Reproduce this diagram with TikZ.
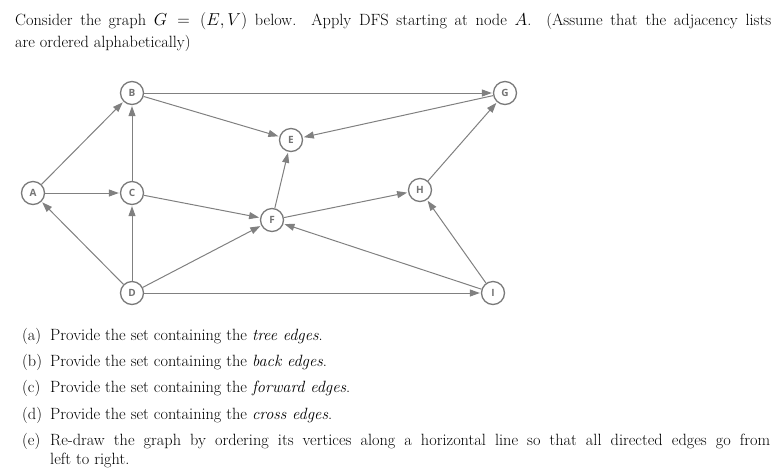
\documentclass[tikz,border=0pt]{standalone}
\usepackage{fontspec}
\newfontfamily\nodefont{Open Sans}
\usetikzlibrary{arrows.meta}
\begin{document}
\begin{tikzpicture}[x=1pt,y=-1pt,
  vert/.style={circle,draw=gray!95!black,line width=1.3pt,minimum size=23pt,inner sep=0pt,text=gray!90!black,font=\nodefont\bfseries\fontsize{10}{10}\selectfont},
  arc/.style={draw=gray,line width=1pt,-{Triangle[length=10pt,width=7pt]},shorten >=1pt},
  txt/.style={anchor=base west,inner sep=0pt,font=\fontsize{16.3}{18}\selectfont}]
\useasboundingbox (0,0) rectangle (776,475);
\node[anchor=north west,inner sep=0pt,text width=756pt,align=justify,font=\fontsize{16.3}{22}\selectfont] (q) at (15,12)
 {Consider the graph $G=(E,V)$ below. Apply DFS starting at node $A$. (Assume that the adjacency lists\linebreak are ordered alphabetically)};
\node[vert] (A) at (33,193) {A};
\node[vert] (B) at (132,93) {B};
\node[vert] (C) at (132,193) {C};
\node[vert] (D) at (132,293) {D};
\node[vert] (E) at (291,140) {E};
\node[vert] (F) at (272,220) {F};
\node[vert] (G) at (505,93) {G};
\node[vert] (H) at (420,190) {H};
\node[vert] (I) at (493,293) {I};
\draw[arc] (A) -- (B);
\draw[arc] (A) -- (C);
\draw[arc] (D) -- (A);
\draw[arc] (C) -- (B);
\draw[arc] (D) -- (C);
\draw[arc] (B) -- (G);
\draw[arc] (B) -- (E);
\draw[arc] (G) -- (E);
\draw[arc] (C) -- (F);
\draw[arc] (D) -- (F);
\draw[arc] (F) -- (E);
\draw[arc] (F) -- (H);
\draw[arc] (H) -- (G);
\draw[arc] (I) -- (H);
\draw[arc] (I) -- (F);
\draw[arc] (D) -- (I);
\node[txt] (la) at (22,340) {(a)};
\node[txt] (ta) at (50,340) {Provide the set containing the \textit{tree edges}.};
\node[txt] (lb) at (22,366) {(b)};
\node[txt] (tb) at (50,366) {Provide the set containing the \textit{back edges}.};
\node[txt] (lc) at (22,392) {(c)};
\node[txt] (tc) at (50,392) {Provide the set containing the \textit{forward edges}.};
\node[txt] (ld) at (22,419) {(d)};
\node[txt] (td) at (50,419) {Provide the set containing the \textit{cross edges}.};
\node[txt] (le) at (22,445) {(e)};
\node[anchor=base west,inner sep=0pt,text width=720pt,align=justify,font=\fontsize{16.3}{19}\selectfont] (tx) at (50,445) {\strut Re-draw the graph by ordering its vertices along a horizontal line so that all directed edges go from\linebreak left to right.};
\end{tikzpicture}
\end{document}
